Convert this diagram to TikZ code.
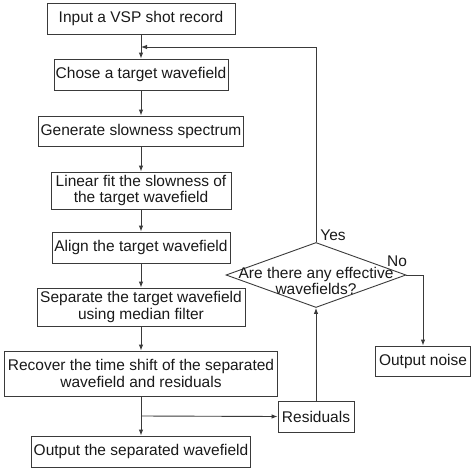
\documentclass[tikz,border=0pt]{standalone}
\usepackage{fontspec}
\setmainfont{Liberation Sans}
\usetikzlibrary{shapes.geometric,arrows.meta}
\definecolor{ln}{HTML}{3A3A3A}
\begin{document}
\begin{tikzpicture}[x=1pt,y=-1pt,
  every node/.style={font=\fontsize{15.5}{16.5}\selectfont, text=black!90},
  box/.style={draw=ln, line width=0.9pt, inner sep=0pt, align=center},
  arr/.style={draw=ln, line width=0.9pt, -{Latex[length=6pt,width=4.5pt]}},
  ln/.style={draw=ln, line width=0.9pt}]
\useasboundingbox (0,0) rectangle (474,471);
\node[box, minimum width=188pt, minimum height=31pt] (b1) at (141,18.5) {Input a VSP shot record};
\node[box, minimum width=174pt, minimum height=31pt] (b2) at (141,74.5) {Chose a target wavefield};
\node[box, minimum width=205pt, minimum height=30pt] (b3) at (141,131) {Generate slowness spectrum};
\node[box, minimum width=180pt, minimum height=37pt] (b4) at (141,190.5) {Linear fit the slowness of\\the target wavefield};
\node[box, minimum width=178pt, minimum height=31pt] (b5) at (141,247.5) {Align the target wavefield};
\node[box, minimum width=208pt, minimum height=38pt] (b6) at (141,307) {Separate the target wavefield\\using median filter};
\node[box, minimum width=273pt, minimum height=45pt] (b7) at (141,373.5) {Recover the time shift of the separated\\wavefield and residuals};
\node[box, minimum width=219pt, minimum height=31pt] (b8) at (141,451.5) {Output the separated wavefield};
\node[box, minimum width=76pt, minimum height=31pt] (res) at (316,416.5) {Residuals};
\node[box, minimum width=95pt, minimum height=30pt] (noise) at (423,361) {Output noise};
\node[draw=ln, line width=0.9pt, diamond, minimum width=180pt, minimum height=65pt, inner sep=0pt] (dia) at (316,275) {};
\node[align=center, font=\fontsize{15.5}{15.5}\selectfont] (dt) at (316,281) {Are there any effective\\wavefields?};
\node (yes) at (333,235) {Yes};
\node (no) at (397,261) {No};
\coordinate (fb) at (141,47);
\coordinate (jn) at (141,416);
\draw[ln] (b1.south) -- (fb);
\draw[arr] (fb) -- (b2.north);
\draw[arr] (b2.south) -- (b3.north);
\draw[arr] (b3.south) -- (b4.north);
\draw[arr] (b4.south) -- (b5.north);
\draw[arr] (b5.south) -- (b6.north);
\draw[arr] (b6.south) -- (b7.north);
\draw[arr] (b7.south) -- (b8.north);
\draw[arr] (jn) -- (res.west);
\draw[arr] (res.north) -- (dia.south);
\draw[arr] (dia.north) |- (fb);
\draw[arr] (dia.east) -| (noise.north);
\end{tikzpicture}
\end{document}
